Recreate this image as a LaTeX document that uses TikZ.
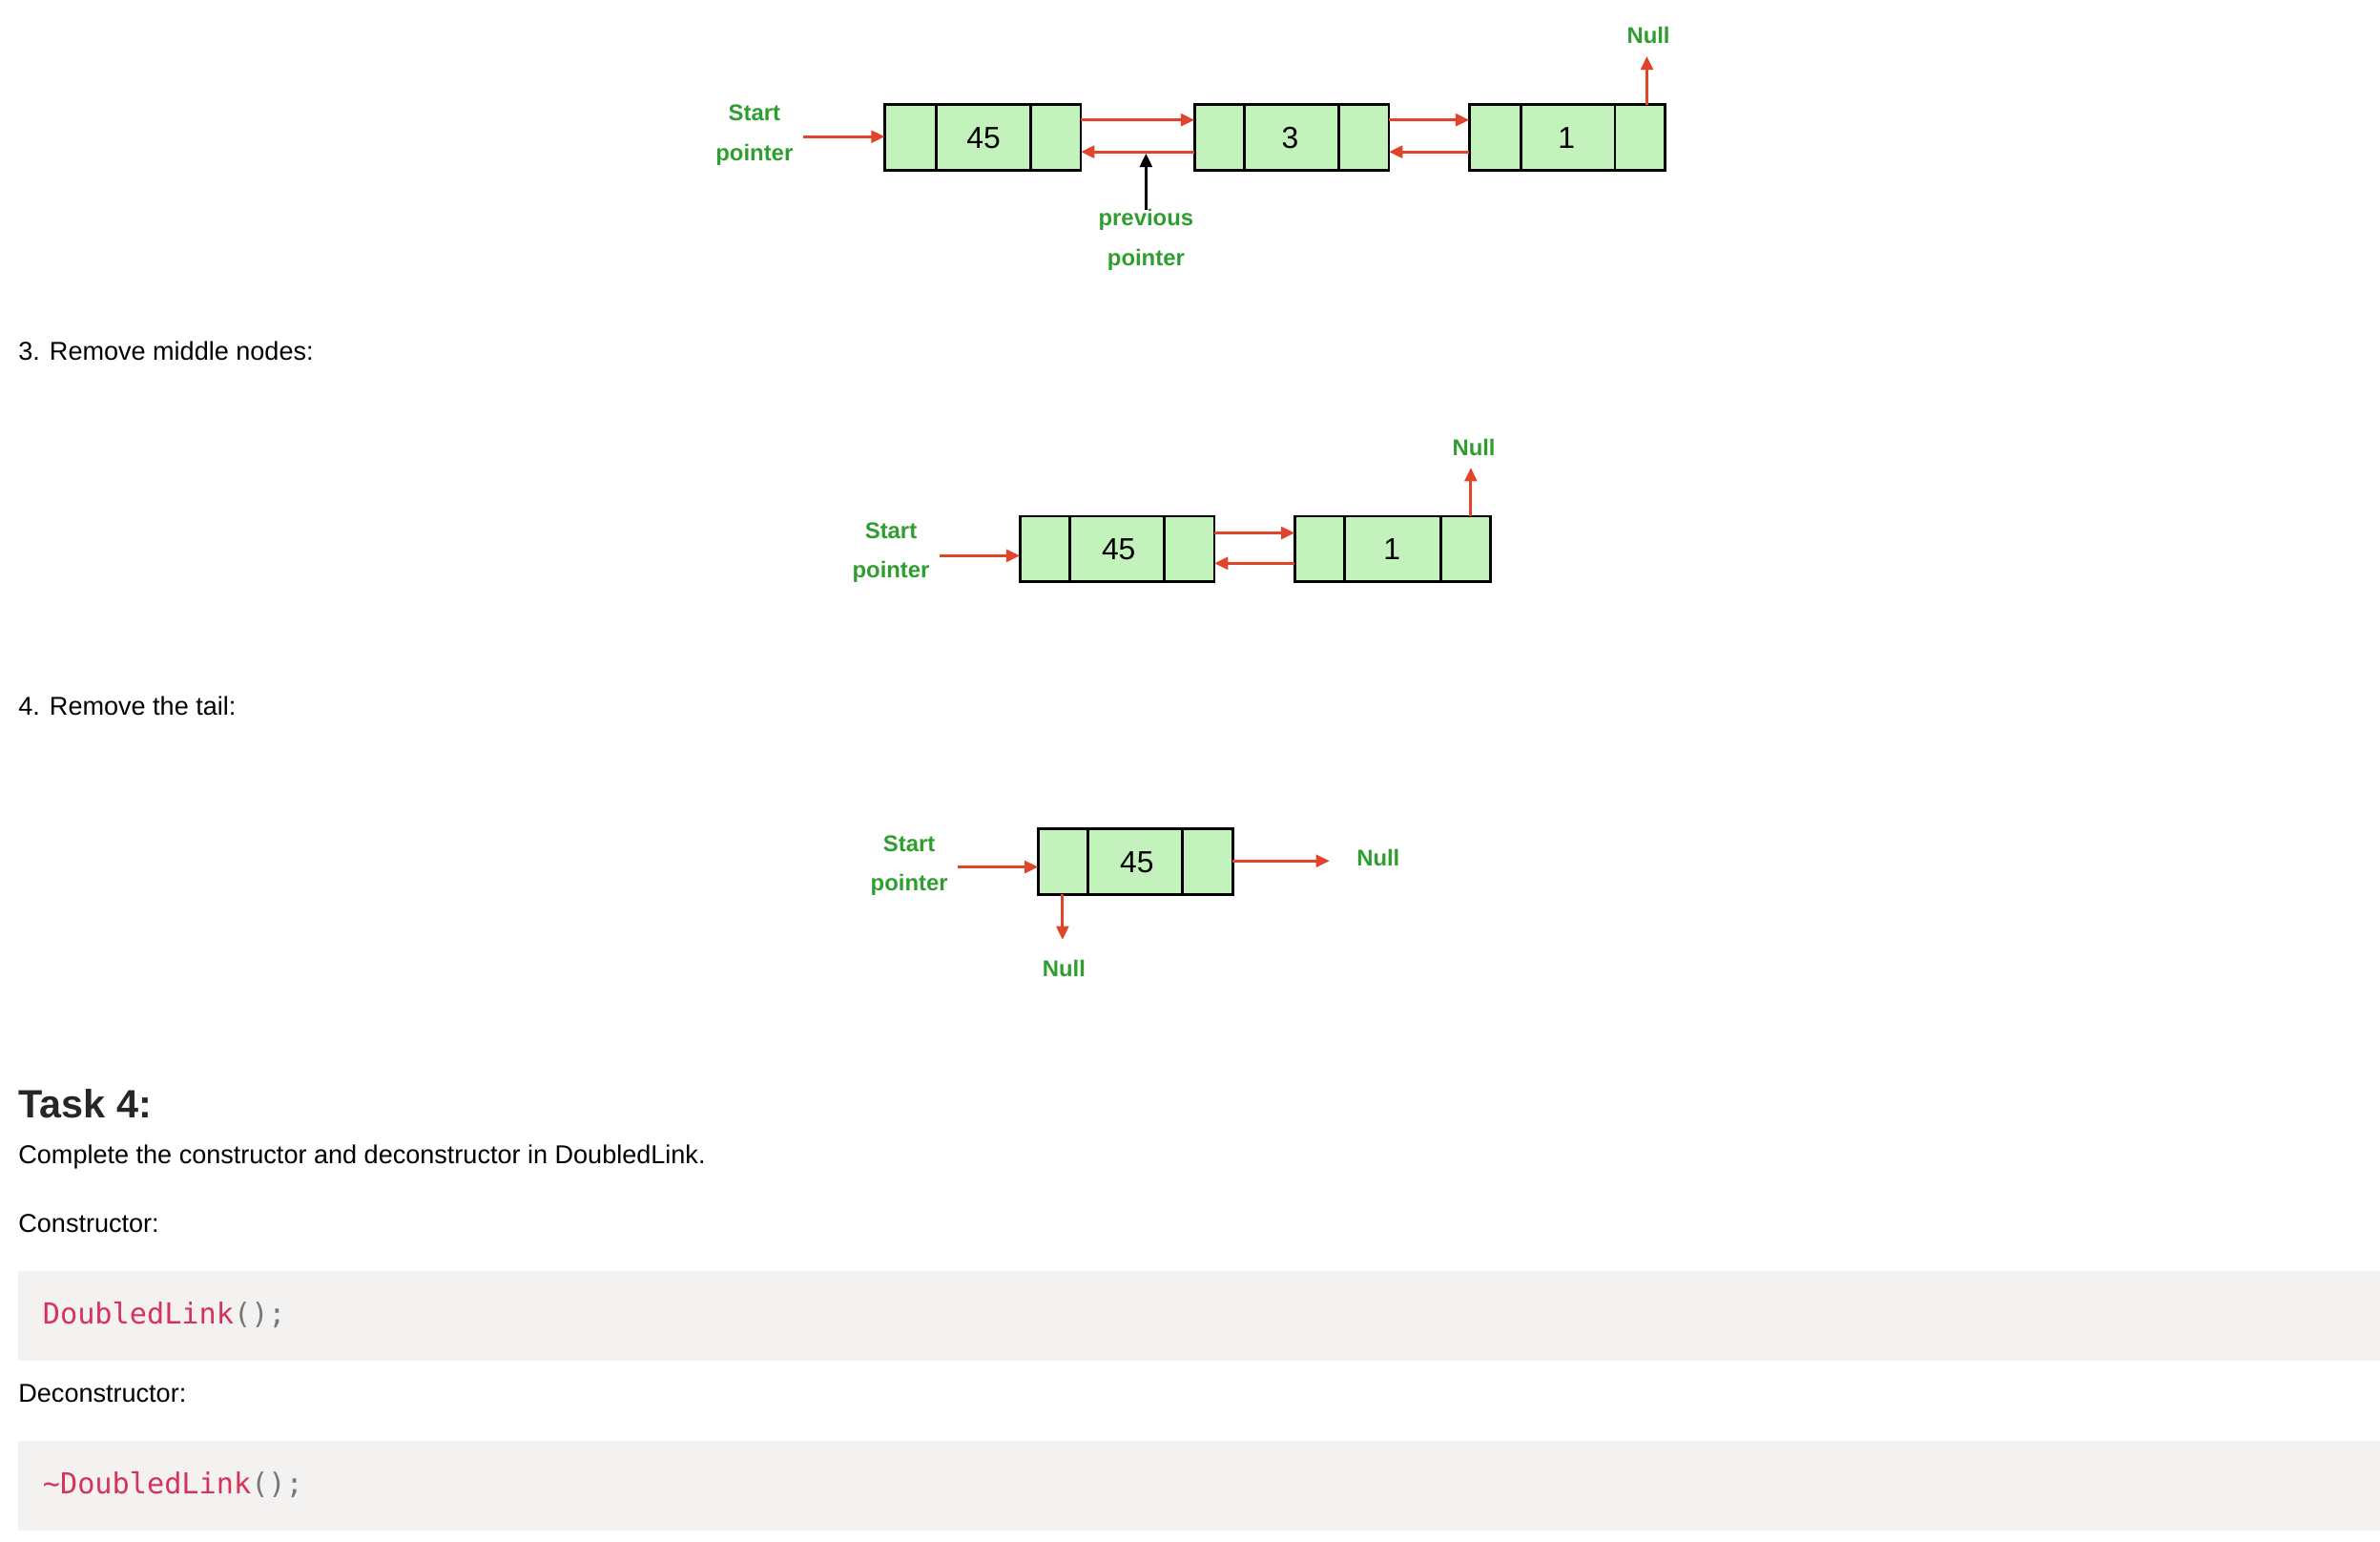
\documentclass[tikz,border=0pt]{standalone}
\usepackage{fontspec}
\setmainfont{Liberation Sans}
\setmonofont{DejaVu Sans Mono}
\usetikzlibrary{arrows.meta}
\definecolor{gtxt}{HTML}{2E9E2E}
\definecolor{rarr}{HTML}{E0442A}
\definecolor{cellg}{HTML}{C4F2BC}
\definecolor{codebg}{HTML}{F3F2F1}
\definecolor{codered}{HTML}{D6335A}
\definecolor{codegray}{HTML}{777777}
\tikzset{
 x=1pt,y=-1pt,
 lbl/.style={text=gtxt,font=\fontsize{15}{26}\selectfont\bfseries,align=center,inner sep=0},
 rar/.style={draw=rarr,line width=2pt,-{Triangle[length=9pt,width=8pt]}},
 bar/.style={draw=black,line width=2pt,-{Triangle[length=9pt,width=8pt]}},
 cell/.style={draw=black,line width=1.8pt,fill=cellg},
 body/.style={anchor=west,inner sep=0,font=\fontsize{17}{20}\selectfont},
 num/.style={font=\fontsize{20}{24}\selectfont,inner sep=0}
}
\newcommand{\llnode}[6]{% name, x0, d1, d2, x1, y0 (height 43)
 \draw[cell] (#2,#6) rectangle (#5,#6+43);
 \draw[line width=1.8pt] (#3,#6) -- (#3,#6+43) (#4,#6) -- (#4,#6+43);
 \coordinate (#1w) at (#2,#6+21.5);
 \coordinate (#1e) at (#5,#6+21.5);
}
\begin{document}
\begin{tikzpicture}
\useasboundingbox (0,0) rectangle (1568,1015);
% Diagram 1
\llnode{a}{583}{617}{679}{712}{69}
\llnode{b}{787}{820}{882}{915}{69}
\llnode{c}{968}{1002}{1064}{1097}{69}
\node[num] (a45) at (648,91) {45};
\node[num] (b3) at (850,91) {3};
\node[num] (c1) at (1032,91) {1};
\node[lbl] (sp1) at (497,89) {Start\\pointer};
\coordinate (sp1e) at (529,90);
\coordinate (a1in) at (583,90);
\draw[rar] (sp1e) -- (a1in);
\coordinate (ab1) at (712,79); \coordinate (ab2) at (787,79);
\draw[rar] (ab1) -- (ab2);
\coordinate (ba1) at (787,100); \coordinate (ba2) at (712,100);
\draw[rar] (ba1) -- (ba2);
\coordinate (bc1) at (915,79); \coordinate (bc2) at (968,79);
\draw[rar] (bc1) -- (bc2);
\coordinate (cb1) at (968,100); \coordinate (cb2) at (915,100);
\draw[rar] (cb1) -- (cb2);
\node[lbl] (n1) at (1086,23) {Null};
\coordinate (cn1) at (1085,69); \coordinate (cn2) at (1085,37);
\draw[rar] (cn1) -- (cn2);
\node[lbl] (pp) at (755,158) {previous\\pointer};
\coordinate (pp1) at (755,138); \coordinate (pp2) at (755,101);
\draw[bar] (pp1) -- (pp2);
% text
\node[body] (t3) at (12,231) {3. Remove middle nodes:};
% Diagram 2
\llnode{d}{672}{705}{767}{800}{340}
\llnode{e}{853}{886}{949}{982}{340}
\node[num] (d45) at (737,362) {45};
\node[num] (e1) at (917,362) {1};
\node[lbl] (sp2) at (587,364) {Start\\pointer};
\coordinate (sp2e) at (619,366); \coordinate (d2in) at (672,366);
\draw[rar] (sp2e) -- (d2in);
\coordinate (de1) at (800,351); \coordinate (de2) at (853,351);
\draw[rar] (de1) -- (de2);
\coordinate (ed1) at (853,371); \coordinate (ed2) at (800,371);
\draw[rar] (ed1) -- (ed2);
\node[lbl] (n2) at (971,295) {Null};
\coordinate (en1) at (969,340); \coordinate (en2) at (969,308);
\draw[rar] (en1) -- (en2);
% text
\node[body] (t4) at (12,465) {4. Remove the tail:};
% Diagram 3
\llnode{f}{684}{717}{779}{812}{546}
\node[num] (f45) at (749,568) {45};
\node[lbl] (sp3) at (599,570) {Start\\pointer};
\coordinate (sp3e) at (631,571); \coordinate (f3in) at (684,571);
\draw[rar] (sp3e) -- (f3in);
\node[lbl] (n3) at (908,565) {Null};
\coordinate (fr1) at (812,567); \coordinate (fr2) at (876,567);
\draw[rar] (fr1) -- (fr2);
\node[lbl] (n4) at (701,638) {Null};
\coordinate (fd1) at (700,589); \coordinate (fd2) at (700,619);
\draw[rar] (fd1) -- (fd2);
% Task 4
\node[body,font=\fontsize{26}{30}\selectfont\bfseries,text=black!85] (task) at (12,727) {Task 4:};
\node[body] (c1t) at (12,762) {Complete the constructor and deconstructor in DoubledLink.};
\node[body] (c2t) at (12,806) {Constructor:};
\fill[codebg] (12,837) rectangle (1568,896);
\node[body,font=\fontsize{19}{22}\selectfont\ttfamily] (code1) at (28,866) {\textcolor{codered}{DoubledLink}\textcolor{codegray}{();}};
\node[body] (c3t) at (12,918) {Deconstructor:};
\fill[codebg] (12,949) rectangle (1568,1008);
\node[body,font=\fontsize{19}{22}\selectfont\ttfamily] (code2) at (28,978) {\textcolor{codered}{\char`\~DoubledLink}\textcolor{codegray}{();}};
\end{tikzpicture}
\end{document}
